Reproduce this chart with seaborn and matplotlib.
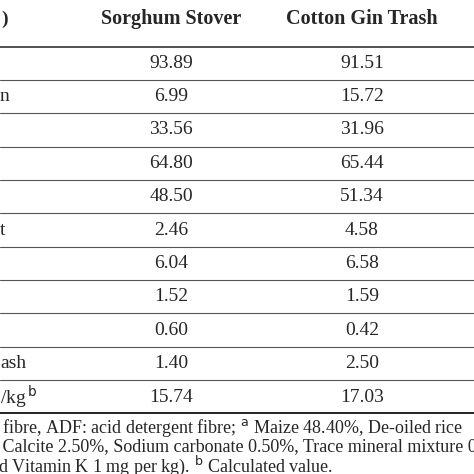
import matplotlib
matplotlib.use("Agg")
import matplotlib.pyplot as plt
import seaborn as sns

sns.set_theme(style="white")
plt.rcParams['font.family'] = ['Liberation Serif', 'DejaVu Serif']

columns = ["Sorghum Stover", "Cotton Gin Trash"]
row_labels = ["", "n", "", "", "", "t", "", "", "", "ash", "/kg$^{\\,\\mathrm{b}}$"]
sorghum = ["93.89", "6.99", "33.56", "64.80", "48.50", "2.46", "6.04", "1.52", "0.60", "1.40", "15.74"]
cotton = ["91.51", "15.72", "31.96", "65.44", "51.34", "4.58", "6.58", "1.59", "0.42", "2.50", "17.03"]
footnotes = [
    " fibre, ADF: acid detergent fibre; $^{\\mathrm{a}}$ Maize 48.40%, De-oiled rice",
    " Calcite 2.50%, Sodium carbonate 0.50%, Trace mineral mixture 0.",
    "d Vitamin K 1 mg per kg). $^{\\mathrm{b}}$ Calculated value.",
]

fig = plt.figure(figsize=(4.74, 4.74), dpi=100)
ax = fig.add_axes([0, 0, 1, 1])
ax.set_xlim(0, 474)
ax.set_ylim(474, 0)
ax.axis("off")

col_x = [171, 362]
ax.text(1, 19, ")", fontsize=14, fontweight="bold", va="center", ha="left")
for x, c in zip(col_x, columns):
    ax.text(x, 19, c, fontsize=14.5, fontweight="bold", va="center", ha="center")
ax.axhline(47, color="#333333", lw=1.2)

y0, dy = 63, 33.4
for i, (lab, s, c) in enumerate(zip(row_labels, sorghum, cotton)):
    y = y0 + i * dy
    ax.text(0, y, lab, fontsize=14, va="center", ha="left")
    ax.text(col_x[0], y, s, fontsize=14, va="center", ha="center")
    ax.text(col_x[1], y, c, fontsize=14, va="center", ha="center")
    if i < len(sorghum) - 1:
        ax.axhline(y + dy / 2, color="#555555", lw=0.8)
ax.axhline(y0 + (len(sorghum) - 1) * dy + 15.5, color="#222222", lw=1.4)

for j, f in enumerate(footnotes):
    ax.text(-2, 428 + j * 19, f, fontsize=13, va="center", ha="left")

fig.savefig("out.png", dpi=100)
